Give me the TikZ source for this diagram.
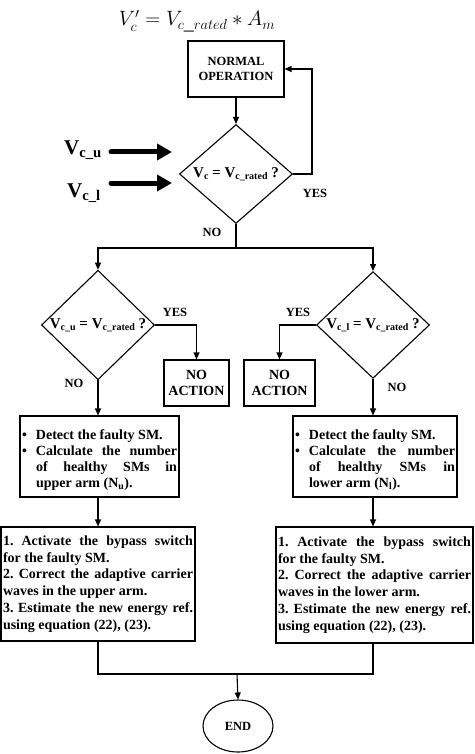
\documentclass[tikz,border=0pt]{standalone}
\usepackage{fontspec}
\setmainfont{Liberation Serif}
\usepackage{tikz}
\usetikzlibrary{shapes.geometric,arrows.meta,positioning}
\frenchspacing

% bullet line with hanging indent
\newcommand\smbullet[1]{\par\noindent\makebox[14pt][l]{\textbullet}%
    \parbox[t]{\dimexpr\linewidth-14pt\relax}{#1}\par}
% small lowered subscript for the decisions
\newcommand\vsub[1]{\raisebox{-2pt}{\fontsize{10}{10}\selectfont#1}}

\begin{document}
\begin{tikzpicture}[
    x=1pt, y=-1pt,
    line width=1.1pt,
    txt/.style={font=\fontsize{14}{16}\selectfont\bfseries},
    box/.style={draw, txt, align=center, inner sep=2pt},
    stepbox/.style={draw, txt, align=justify, inner xsep=2pt, inner ysep=2pt,
        execute at begin node=\parindent0pt},
    decision/.style={draw, diamond, minimum width=113pt, minimum height=93pt,
        inner sep=0pt, font=\fontsize{15}{17}\selectfont\bfseries},
    terminal/.style={draw, ellipse, minimum width=70pt, minimum height=52pt,
        inner sep=0pt, font=\fontsize{12.5}{15}\selectfont\bfseries},
    answer/.style={font=\fontsize{12.5}{15}\selectfont\bfseries},
    flow/.style={-{Triangle[length=7pt,width=6pt]}},
    inarrow/.style={line width=5pt, line cap=round, -{Triangle[length=15pt,width=16pt]}}
]
    \useasboundingbox (0,0) rectangle (474,754);

    % top formula and inputs
    \node (formula) at (197,21) {\fontsize{20}{24}\selectfont $V_c' = V_{c\_rated} * A_m$};
    \node[font=\fontsize{21}{24}\selectfont\bfseries] (vcu) at (83,150) {V\textsubscript{c\_u}};
    \node[font=\fontsize{21}{24}\selectfont\bfseries] (vcl) at (84,193) {V\textsubscript{c\_l}};
    \coordinate (inU1) at (111,152);
    \coordinate (inU2) at (172,152);
    \coordinate (inL1) at (111,183);
    \coordinate (inL2) at (172,183);

    % main chain
    \node[box, minimum width=96pt, minimum height=56pt,
        font=\fontsize{12.5}{15}\selectfont\bfseries] (normal) at (236,69) {NORMAL\\OPERATION};
    \node[decision] (check) at (236,174) {V\vsub{c} = V\vsub{c\_rated} ?};
    \coordinate (loop) at (312,69);
    \coordinate (split) at (236,248);

    % branches
    \node[decision] (checkU) at (98,325) {V\vsub{c\_u} = V\vsub{c\_rated} ?};
    \node[decision] (checkL) at (373,325) {V\vsub{c\_l} = V\vsub{c\_rated} ?};
    \node[box, minimum width=65pt, minimum height=46pt] (noactU) at (196.5,383) {NO\\ACTION};
    \node[box, minimum width=71pt, minimum height=46pt] (noactL) at (279.5,383) {NO\\ACTION};

    \node[stepbox, text width=155pt, minimum height=81pt] (detU) at (99.5,456.5) {%
        \smbullet{Detect the faulty SM.}%
        \smbullet{Calculate the number\linebreak of healthy SMs in\linebreak upper arm (N\textsubscript{u}).}};
    \node[stepbox, text width=160pt, minimum height=81pt] (detL) at (375,456.5) {%
        \smbullet{Detect the faulty SM.}%
        \smbullet{Calculate the number\linebreak of healthy SMs in\linebreak lower arm (N\textsubscript{l}).}};

    \node[stepbox, text width=190pt, minimum height=114pt,
        font=\fontsize{14}{16.8}\selectfont\bfseries] (actU) at (98,584) {%
        1. Activate the bypass switch\linebreak for the faulty SM.\par
        2. Correct the adaptive carrier\linebreak waves in the upper arm.\par
        3. Estimate the new energy ref.\linebreak using equation (22), (23).};
    \node[stepbox, text width=193pt, minimum height=116pt,
        font=\fontsize{14}{16.8}\selectfont\bfseries] (actL) at (374.5,585) {%
        1. Activate the bypass switch\linebreak for the faulty SM.\par
        2. Correct the adaptive carrier\linebreak waves in the lower arm.\par
        3. Estimate the new energy ref.\linebreak using equation (22), (23).};

    \coordinate (merge) at (237,674);
    \node[terminal] (finish) at (238,726) {END};

    % answers
    \node[answer] (yes0) at (315,193) {YES};
    \node[answer] (no0) at (212,232) {NO};
    \node[answer] (yesU) at (175,312) {YES};
    \node[answer] (noU) at (74,383) {NO};
    \node[answer] (yesL) at (298,312) {YES};
    \node[answer] (noL) at (397,387) {NO};

    % connectors
    \draw[inarrow] (inU1) -- (inU2);
    \draw[inarrow] (inL1) -- (inL2);
    \draw[flow] (normal) -- (check);
    \draw[flow] (check.east) -| (loop) -- (normal.east);
    \draw[flow] (check.south) -- (split) -| (checkU.north);
    \draw[flow] (split) -| (checkL.north);
    \draw[flow] (checkU.east) -| (noactU.north);
    \draw[flow] (checkL.west) -| (noactL.north);
    \draw[flow] (checkU.south) -- (checkU.south |- detU.north);
    \draw[flow] (checkL.south) -- (checkL.south |- detL.north);
    \draw[flow] (checkU.south |- detU.south) -- (checkU.south |- actU.north);
    \draw[flow] (checkL.south |- detL.south) -- (checkL.south |- actL.north);
    \draw (actU.south) |- (merge) -| (checkL.south |- actL.south);
    \draw[flow] (merge) -- (finish.north);
\end{tikzpicture}
\end{document}
